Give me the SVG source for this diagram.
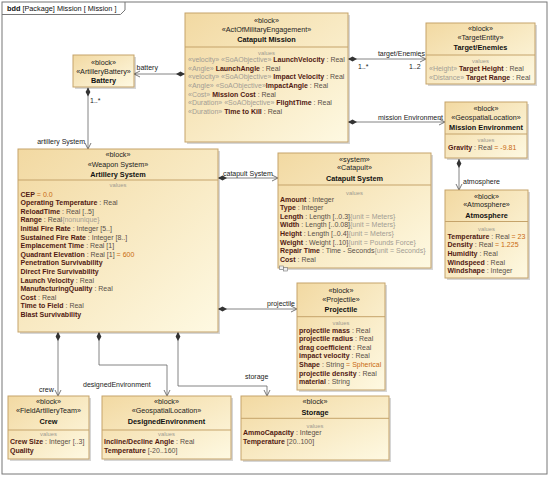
<svg xmlns="http://www.w3.org/2000/svg" width="550" height="477" viewBox="0 0 550 477">
<defs>
<linearGradient id="g" x1="0" y1="0" x2="1" y2="1">
<stop offset="0" stop-color="#f2d9a2"/>
<stop offset="1" stop-color="#fef9e2"/>
</linearGradient>
<marker id="dia" markerWidth="10" markerHeight="6" refX="0" refY="3" orient="auto" markerUnits="userSpaceOnUse" viewBox="0 0 10 6"><path d="M0,3 L4.5,0.6 L9,3 L4.5,5.4 Z" fill="#333"/></marker>
<marker id="arr" markerWidth="8" markerHeight="8" refX="7.5" refY="4" orient="auto" markerUnits="userSpaceOnUse" viewBox="0 0 8 8"><path d="M1.5,1 L7.5,4 L1.5,7" fill="none" stroke="#555" stroke-width="0.8"/></marker>
<style>
text{font-family:"Liberation Sans",Arial,sans-serif}
.box{fill:url(#g);stroke:#c5a36a;stroke-width:1}
.sh{fill:#000;opacity:0.16}
.sep{stroke:#c5a36a;stroke-width:1}
.st{font-size:7.2px;fill:#222;text-anchor:middle}
.nm{font-size:7.3px;font-weight:bold;fill:#111;text-anchor:middle}
.vl{font-size:5.8px;fill:#a09a90;text-anchor:middle}
.r{font-size:7px;fill:#5a5048}
.n{font-weight:bold;fill:#521a12}
.s{fill:#a39d94}
.d{fill:#c96a10}
.gr{fill:#a39d94}
.lb{font-size:7px;fill:#222}
.con{fill:none;stroke:#666;stroke-width:0.8}
.ms{marker-start:url(#dia);marker-end:url(#arr)}
</style>
</defs>
<rect width="550" height="477" fill="#fff"/>
<g id="frame">
<rect x="2" y="2" width="545" height="472" fill="none" stroke="#777" stroke-width="1"/>
<path d="M2,14.5 H120.5 L125,10 V2" fill="none" stroke="#777" stroke-width="1"/>
<text x="7" y="11" font-size="7.3px" fill="#111"><tspan font-weight="bold">bdd</tspan> [Package] Mission [ Mission ]</text>
</g>
<g id="connectors">
<path class="con ms" d="M185,74 H134"/>
<path class="con ms" d="M88,87.5 V149"/>
<path class="con ms" d="M348,59 H426"/>
<path class="con ms" d="M348,122 H445"/>
<path class="con ms" d="M459,159 V190"/>
<path class="con ms" d="M218,178 H278"/>
<path class="con ms" d="M218,309 H297"/>
<path class="con ms" d="M58,332 V396"/>
<path class="con ms" d="M99,332 V365 H167 V396"/>
<path class="con ms" d="M178,332 V386 H267 V396"/>
<text class="lb" x="136.5" y="70">battery</text>
<text class="lb" x="90" y="103">1..*</text>
<text class="lb" x="85" y="144" text-anchor="end">artillery System</text>
<text class="lb" x="425" y="56" text-anchor="end">target/Enemies</text>
<text class="lb" x="358" y="69">1..*</text>
<text class="lb" x="409" y="69">1..2</text>
<text class="lb" x="443" y="120" text-anchor="end">mission Environment</text>
<text class="lb" x="463" y="184">atmosphere</text>
<text class="lb" x="223" y="176">catapult System</text>
<text class="lb" x="295" y="306" text-anchor="end">projectile</text>
<text class="lb" x="39" y="392">crew</text>
<text class="lb" x="83" y="387">designedEnvironment</text>
<text class="lb" x="245" y="379">storage</text>
</g>
<g id="battery">
<rect class="sh" x="75" y="57" width="61" height="32"/>
<rect class="box" x="73" y="55" width="61" height="32"/>
<text class="st" x="103.5" y="64.5">«block»</text>
<text class="st" x="103.5" y="73.5">«ArtilleryBattery»</text>
<text class="nm" x="103.5" y="83">Battery</text>
</g>
<g id="catapultMission">
<rect class="sh" x="187" y="15" width="163" height="129"/>
<rect class="box" x="185" y="13" width="163" height="129"/>
<line class="sep" x1="185" y1="47" x2="348" y2="47"/>
<text class="st" x="266.5" y="22.5">«block»</text>
<text class="st" x="266.5" y="31.5">«ActOfMilitaryEngagement»</text>
<text class="nm" x="266.5" y="41.5">Catapult Mission</text>
<text class="vl" x="266.5" y="55">values</text>
<text class="r" x="188" y="61.8"><tspan class="s">«velocity» «SoAObjective» </tspan><tspan class="n">LaunchVelocity</tspan> : Real</text>
<text class="r" x="188" y="70.5"><tspan class="s">«Angle» </tspan><tspan class="n">LaunchAngle</tspan> : Real</text>
<text class="r" x="188" y="79.2"><tspan class="s">«velocity» «SoAObjective» </tspan><tspan class="n">Impact Velocity</tspan> : Real</text>
<text class="r" x="188" y="87.9"><tspan class="s">«Angle» «SoAObjective»</tspan><tspan class="n">ImpactAngle</tspan> : Real</text>
<text class="r" x="188" y="96.6"><tspan class="s">«Cost» </tspan><tspan class="n">Mission Cost</tspan> : Real</text>
<text class="r" x="188" y="105.3"><tspan class="s">«Duration» «SoAObjective» </tspan><tspan class="n">FlightTime</tspan> : Real</text>
<text class="r" x="188" y="114"><tspan class="s">«Duration» </tspan><tspan class="n">Time to Kill</tspan> : Real</text>
</g>
<g id="targetEnemies">
<rect class="sh" x="428" y="25" width="109" height="61"/>
<rect class="box" x="426" y="23" width="109" height="61"/>
<line class="sep" x1="426" y1="55" x2="535" y2="55"/>
<text class="st" x="480.5" y="31">«block»</text>
<text class="st" x="480.5" y="39.5">«TargetEntity»</text>
<text class="nm" x="480.5" y="50">Target/Enemies</text>
<text class="vl" x="480.5" y="62.8">values</text>
<text class="r" x="429" y="71"><tspan class="s">«Height» </tspan><tspan class="n">Target Height</tspan> : Real</text>
<text class="r" x="429" y="79.5"><tspan class="s">«Distance» </tspan><tspan class="n">Target Range</tspan> : Real</text>
</g>
<g id="missionEnvironment">
<rect class="sh" x="447" y="104" width="82" height="56"/>
<rect class="box" x="445" y="102" width="82" height="56"/>
<line class="sep" x1="445" y1="134" x2="527" y2="134"/>
<text class="st" x="486" y="111">«block»</text>
<text class="st" x="486" y="120">«GeospatialLocation»</text>
<text class="nm" x="486" y="130">Mission Environment</text>
<text class="vl" x="486" y="142">values</text>
<text class="r" x="448" y="150"><tspan class="n">Gravity</tspan> : Real <tspan class="d">= -9.81</tspan></text>
</g>
<g id="atmosphere">
<rect class="sh" x="447" y="192" width="83" height="88"/>
<rect class="box" x="445" y="190" width="83" height="88"/>
<line class="sep" x1="445" y1="221.5" x2="528" y2="221.5"/>
<text class="st" x="486.5" y="198.5">«block»</text>
<text class="st" x="486.5" y="207">«Atmosphere»</text>
<text class="nm" x="486.5" y="218">Atmosphere</text>
<text class="vl" x="486.5" y="231">values</text>
<text class="r" x="447.5" y="238.5"><tspan class="n">Temperature</tspan> : Real <tspan class="d">= 23</tspan></text>
<text class="r" x="447.5" y="247.2"><tspan class="n">Density</tspan> : Real <tspan class="d">= 1.225</tspan></text>
<text class="r" x="447.5" y="255.9"><tspan class="n">Humidity</tspan> : Real</text>
<text class="r" x="447.5" y="264.6"><tspan class="n">Windspeed</tspan> : Real</text>
<text class="r" x="447.5" y="273.3"><tspan class="n">Windshape</tspan> : Integer</text>
</g>
<g id="artillerySystem">
<rect class="sh" x="20" y="151" width="200" height="183"/>
<rect class="box" x="18" y="149" width="200" height="183"/>
<line class="sep" x1="18" y1="180" x2="218" y2="180"/>
<text class="st" x="118" y="157">«block»</text>
<text class="st" x="118" y="166.5">«Weapon System»</text>
<text class="nm" x="118" y="176.5">Artillery System</text>
<text class="vl" x="118" y="187">values</text>
<text class="r" x="20.5" y="196.5"><tspan class="n">CEP</tspan> <tspan class="d">= 0.0</tspan></text>
<text class="r" x="20.5" y="205.1"><tspan class="n">Operating Temperature</tspan> : Real</text>
<text class="r" x="20.5" y="213.7"><tspan class="n">ReloadTime</tspan> : Real [..5]</text>
<text class="r" x="20.5" y="222.3"><tspan class="n">Range</tspan> : Real<tspan class="gr">{nonunique}</tspan></text>
<text class="r" x="20.5" y="230.9"><tspan class="n">Initial Fire Rate</tspan> : Integer [5..]</text>
<text class="r" x="20.5" y="239.5"><tspan class="n">Sustained Fire Rate</tspan> : Integer [8..]</text>
<text class="r" x="20.5" y="248.1"><tspan class="n">Emplacement Time</tspan> : Real [1]</text>
<text class="r" x="20.5" y="256.7"><tspan class="n">Quadrant Elevation</tspan> : Real [1] <tspan class="d">= 600</tspan></text>
<text class="r" x="20.5" y="265.3"><tspan class="n">Penetration Survivability</tspan></text>
<text class="r" x="20.5" y="273.9"><tspan class="n">Direct Fire Survivability</tspan></text>
<text class="r" x="20.5" y="282.5"><tspan class="n">Launch Velocity</tspan> : Real</text>
<text class="r" x="20.5" y="291.1"><tspan class="n">ManufacturingQuality</tspan> : Real</text>
<text class="r" x="20.5" y="299.7"><tspan class="n">Cost</tspan> : Real</text>
<text class="r" x="20.5" y="308.3"><tspan class="n">Time to Field</tspan> : Real</text>
<text class="r" x="20.5" y="316.9"><tspan class="n">Blast Survivability</tspan></text>
</g>
<g id="catapultSystem">
<rect class="sh" x="280" y="155" width="153" height="115"/>
<rect class="box" x="278" y="153" width="153" height="115"/>
<line class="sep" x1="278" y1="185" x2="431" y2="185"/>
<text class="st" x="354.5" y="161.5">«system»</text>
<text class="st" x="354.5" y="170">«Catapult»</text>
<text class="nm" x="354.5" y="180.5">Catapult System</text>
<text class="vl" x="354.5" y="194.5">values</text>
<text class="r" x="280" y="201.5"><tspan class="n">Amount</tspan> : Integer</text>
<text class="r" x="280" y="210.1"><tspan class="n">Type</tspan> : Integer</text>
<text class="r" x="280" y="218.7"><tspan class="n">Length</tspan> : Length [..0.3]<tspan class="gr">{unit = Meters}</tspan></text>
<text class="r" x="280" y="227.3"><tspan class="n">Width</tspan> : Length [..0.08]<tspan class="gr">{unit = Meters}</tspan></text>
<text class="r" x="280" y="235.9"><tspan class="n">Height</tspan> : Length [..0.4]<tspan class="gr">{unit = Meters}</tspan></text>
<text class="r" x="280" y="244.5"><tspan class="n">Weight</tspan> : Weight [..10]<tspan class="gr">{unit = Pounds Force}</tspan></text>
<text class="r" x="280" y="253.1"><tspan class="n">Repair Time</tspan> : Time - Seconds<tspan class="gr">{unit = Seconds}</tspan></text>
<text class="r" x="280" y="261.7"><tspan class="n">Cost</tspan> : Real</text>
<g fill="#eee" stroke="#777" stroke-width="0.6">
<rect x="279.5" y="266" width="4" height="3.5"/>
<rect x="283.5" y="267.5" width="4" height="3.5"/>
</g>
</g>
<g id="projectile">
<rect class="sh" x="299" y="285" width="88" height="107"/>
<rect class="box" x="297" y="283" width="88" height="107"/>
<line class="sep" x1="297" y1="316.7" x2="385" y2="316.7"/>
<text class="st" x="341" y="292.5">«block»</text>
<text class="st" x="341" y="301.5">«Projectile»</text>
<text class="nm" x="341" y="311.5">Projectile</text>
<text class="vl" x="341" y="324.5">values</text>
<text class="r" x="299" y="332.5"><tspan class="n">projectile mass</tspan> : Real</text>
<text class="r" x="299" y="341.1"><tspan class="n">projectile radius</tspan> : Real</text>
<text class="r" x="299" y="349.7"><tspan class="n">drag coefficient</tspan> : Real</text>
<text class="r" x="299" y="358.3"><tspan class="n">impact velocity</tspan> : Real</text>
<text class="r" x="299" y="366.9"><tspan class="n">Shape</tspan> : String <tspan class="d">= Spherical</tspan></text>
<text class="r" x="299" y="375.5"><tspan class="n">projectile density</tspan> : Real</text>
<text class="r" x="299" y="384.1"><tspan class="n">material</tspan> : String</text>
</g>
<g id="crew">
<rect class="sh" x="10" y="398" width="81" height="63"/>
<rect class="box" x="8" y="396" width="81" height="63"/>
<line class="sep" x1="8" y1="430" x2="89" y2="430"/>
<text class="st" x="48.5" y="404">«block»</text>
<text class="st" x="48.5" y="413">«FieldArtilleryTeam»</text>
<text class="nm" x="48.5" y="423.5">Crew</text>
<text class="vl" x="48.5" y="436">values</text>
<text class="r" x="10" y="444.3"><tspan class="n">Crew Size</tspan> : Integer [..3]</text>
<text class="r" x="10" y="453"><tspan class="n">Quality</tspan></text>
</g>
<g id="designedEnvironment">
<rect class="sh" x="104" y="398" width="129" height="63"/>
<rect class="box" x="102" y="396" width="129" height="63"/>
<line class="sep" x1="102" y1="430" x2="231" y2="430"/>
<text class="st" x="166.5" y="404">«block»</text>
<text class="st" x="166.5" y="413">«GeospatialLocation»</text>
<text class="nm" x="166.5" y="423.5">DesignedEnvironment</text>
<text class="vl" x="166.5" y="436">values</text>
<text class="r" x="104" y="444.3"><tspan class="n">Incline/Decline Angle</tspan> : Real</text>
<text class="r" x="104" y="453"><tspan class="n">Temperature</tspan> [-20..160]</text>
</g>
<g id="storage">
<rect class="sh" x="243" y="398" width="148" height="64"/>
<rect class="box" x="241" y="396" width="148" height="64"/>
<line class="sep" x1="241" y1="418.3" x2="389" y2="418.3"/>
<text class="st" x="315" y="404">«block»</text>
<text class="nm" x="315" y="415">Storage</text>
<text class="vl" x="315" y="428">values</text>
<text class="r" x="243" y="435.3"><tspan class="n">AmmoCapacity</tspan> : Integer</text>
<text class="r" x="243" y="443.8"><tspan class="n">Temperature</tspan> [20..100]</text>
</g>
</svg>
